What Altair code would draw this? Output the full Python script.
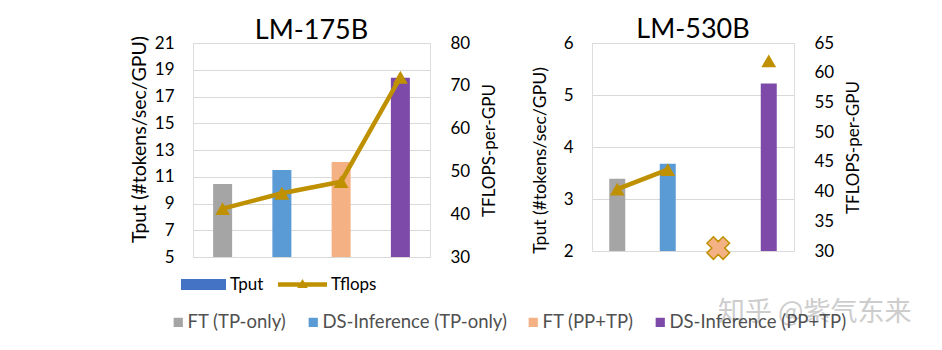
import altair as alt
import pandas as pd

FONT = "Lato"
CJK = "Noto Sans CJK SC"

# ---------------- data ----------------
configs = ["FT (TP-only)", "DS-Inference (TP-only)", "FT (PP+TP)", "DS-Inference (PP+TP)"]
bar_colors = ["#A5A5A5", "#5B9BD5", "#F4B183", "#7E4AAA"]
gold = "#BF9000"
tput_blue = "#4472C4"

panel_titles = ["LM-175B", "LM-530B"]

tput_175b = [10.45, 11.5, 12.1, 18.4]
tflops_175b = [41.3, 44.9, 47.6, 72.0]

tput_530b = [3.39, 3.68, None, 5.22]
tflops_530b = [40.4, 43.7, None, 62.0]
oom_config_530b = ["FT (PP+TP)"]
oom_marker_530b = [30.5]

tput_ticks_175b = [5, 7, 9, 11, 13, 15, 17, 19, 21]
tflops_ticks_175b = [30, 40, 50, 60, 70, 80]
tput_ticks_530b = [2, 3, 4, 5, 6]
tflops_ticks_530b = [30, 35, 40, 45, 50, 55, 60, 65]

tput_title = "Tput (#tokens/sec/GPU)"
tflops_title = "TFLOPS-per-GPU"
series_labels = ["Tput", "Tflops"]
watermark = "知乎 @紫气东来"

# ---------------- helpers ----------------
bar_legend = alt.Legend(
    orient="none", legendX=-24, legendY=270, direction="horizontal", title=None,
    symbolType="square", symbolSize=85, symbolStrokeWidth=0, symbolOpacity=1,
    labelFont=FONT, labelFontSize=18.5, labelColor="#505050", labelLimit=0,
    labelOffset=0, columnPadding=17,
)


def panel(title, tput, tflops, tput_ticks, tflops_ticks, width, height, bar_w,
          title_offset, left_title_pad, left_title_size, left_title_y, extra=None):
    df = pd.DataFrame({"config": configs, "tput": tput, "tflops": tflops})
    xenc = alt.X("config:N", sort=configs,
                 scale=alt.Scale(domain=configs, paddingInner=0, paddingOuter=0),
                 axis=None)
    bars = alt.Chart(df).transform_filter("isValid(datum.tput)").mark_bar(
        width=bar_w
    ).encode(
        x=xenc,
        y=alt.Y("tput:Q",
                scale=alt.Scale(domain=[tput_ticks[0], tput_ticks[-1]], nice=False, zero=False),
                axis=alt.Axis(orient="left", values=tput_ticks, title=tput_title,
                              grid=True, gridColor="#D9D9D9", gridWidth=1.2,
                              domain=False, ticks=False, labelPadding=19,
                              titlePadding=left_title_pad, labelFontSize=17,
                              titleFontSize=left_title_size, titleY=left_title_y,
                              titleFontWeight="normal",
                              labelFont=FONT, titleFont=FONT)),
        y2=alt.datum(tput_ticks[0]),
        color=alt.Color("config:N", scale=alt.Scale(domain=configs, range=bar_colors),
                        legend=bar_legend),
    )
    yr = alt.Y("tflops:Q",
               scale=alt.Scale(domain=[tflops_ticks[0], tflops_ticks[-1]], nice=False, zero=False),
               axis=alt.Axis(orient="right", values=tflops_ticks, title=tflops_title,
                             grid=False, domain=False, ticks=False, labelPadding=20,
                             titlePadding=12, labelFontSize=17, titleFontSize=17,
                             titleFontWeight="normal", labelFont=FONT, titleFont=FONT,
                             titleAngle=270, titleBaseline="top"))
    line = alt.Chart(df).mark_line(
        color=gold, strokeWidth=4.5, invalid="break-paths-show-domains"
    ).encode(x=xenc, y=yr)
    tri = alt.Chart(df).transform_filter("isValid(datum.tflops)").mark_point(
        shape="triangle-up", filled=True, size=220, color=gold, opacity=1
    ).encode(x=xenc, y=yr)
    trend_layers = [line, tri]
    if extra is not None:
        odf = pd.DataFrame({"config": extra[0], "tflops": extra[1]})
        trend_layers.append(
            alt.Chart(odf).mark_point(
                shape="cross", angle=45, filled=True, fill="#F4B183", stroke=gold,
                strokeWidth=1.5, size=520, opacity=1
            ).encode(x=xenc, y=yr)
        )
    trend = alt.layer(*trend_layers)
    return alt.layer(bars, trend).resolve_scale(y="independent").properties(
        width=width, height=height,
        title=alt.TitleParams(title, offset=title_offset, fontSize=27, font=FONT,
                              fontWeight="normal", color="#000000"),
    )


# manual series key (Tput bar / Tflops line) under the left panel
one = pd.DataFrame({"k": [0]})
key_rect = alt.Chart(one).mark_rect(color=tput_blue).encode(
    x=alt.value(-12), x2=alt.value(33), y=alt.value(236), y2=alt.value(247))
key_tput = alt.Chart(one).mark_text(
    text=series_labels[0], align="left", baseline="middle", font=FONT, fontSize=17, color="#000"
).encode(x=alt.value(37), y=alt.value(241.5))
key_line = alt.Chart(one).mark_rule(color=gold, strokeWidth=4.5).encode(
    x=alt.value(85), x2=alt.value(134), y=alt.value(241.5))
key_tri = alt.Chart(one).mark_point(
    shape="triangle-up", filled=True, size=110, color=gold, opacity=1
).encode(x=alt.value(109.5), y=alt.value(240.5))
key_tflops = alt.Chart(one).mark_text(
    text=series_labels[1], align="left", baseline="middle", font=FONT, fontSize=17, color="#000"
).encode(x=alt.value(138), y=alt.value(241.5))

wm = alt.Chart(one).mark_text(
    text=watermark, align="left", baseline="middle", font=CJK, fontSize=27,
    color="#BDBDBD", opacity=0.75
).encode(x=alt.value(126), y=alt.value(270))

left = panel(panel_titles[0], tput_175b, tflops_175b, tput_ticks_175b, tflops_ticks_175b,
             237, 214, 19, -11.3, 5, 19.5, 96)
left = alt.layer(left, key_rect, key_tput, key_line, key_tri, key_tflops)

right = panel(panel_titles[1], tput_530b, tflops_530b, tput_ticks_530b, tflops_ticks_530b,
              202, 208, 16, -10.2, 14, 17.6, 117, extra=(oom_config_530b, oom_marker_530b))
right = alt.layer(right, wm)

chart = alt.hconcat(left, right, spacing=31).resolve_scale(color="shared").properties(
    padding={"left": 128, "top": 15, "right": 5, "bottom": 5}
).configure_view(stroke=None).configure_axis(
    labelFont=FONT, titleFont=FONT, labelColor="#000000", titleColor="#000000",
    titleFontWeight="normal"
).configure(background="white")

chart.save("out.html", embed_options={"renderer": "svg", "actions": False})
